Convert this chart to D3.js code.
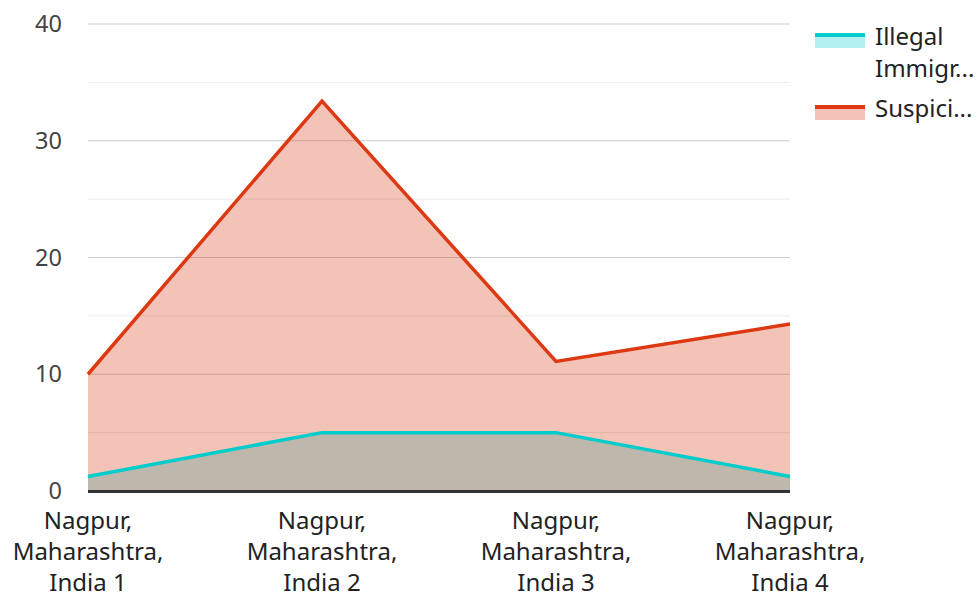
<!DOCTYPE html>
<html>
<head>
<meta charset="utf-8">
<script src="https://cdn.jsdelivr.net/npm/d3@7"></script>
<style>
  body { margin: 0; background: #fff; }
  svg { font-family: "Noto Sans", sans-serif; }
</style>
</head>
<body>
<svg id="chart" width="976" height="593"></svg>
<script>
// data
const categories = ['Nagpur, Maharashtra, India 1', 'Nagpur, Maharashtra, India 2', 'Nagpur, Maharashtra, India 3', 'Nagpur, Maharashtra, India 4'];
const illegal = [1.25, 5, 5, 1.25];
const suspicious = [10, 33.4, 11.1, 14.3];
const seriesNames = ['Illegal Immigr...', 'Suspici...'];
const yTicks = [0, 10, 20, 30, 40];
const yMinor = [5, 15, 25, 35];

const colors = ['#00cccc', '#dc3912'];

const svg = d3.select('#chart');
const plotLeft = 88, plotRight = 790, plotTop = 24, plotBottom = 491;

const x = d3.scalePoint().domain(categories).range([plotLeft, plotRight]);
const y = d3.scaleLinear().domain([0, 40]).range([plotBottom, plotTop]);

// grid
svg.append('g').selectAll('line').data(yMinor).enter().append('line')
  .attr('x1', plotLeft).attr('x2', plotRight)
  .attr('y1', d => y(d)).attr('y2', d => y(d))
  .attr('stroke', '#ebebeb').attr('stroke-width', 1);
svg.append('g').selectAll('line').data(yTicks.filter(d => d > 0)).enter().append('line')
  .attr('x1', plotLeft).attr('x2', plotRight)
  .attr('y1', d => y(d)).attr('y2', d => y(d))
  .attr('stroke', '#cccccc').attr('stroke-width', 1);

// y labels
svg.append('g').selectAll('text').data(yTicks).enter().append('text')
  .attr('x', 62).attr('y', d => y(d) + 8)
  .attr('text-anchor', 'end')
  .attr('font-size', 23.5).attr('fill', '#444')
  .text(d => d);

const series = [illegal, suspicious];
const area = d3.area().x((d, i) => x(categories[i])).y0(y(0)).y1(d => y(d));
const line = d3.line().x((d, i) => x(categories[i])).y(d => y(d));

series.forEach((s, k) => {
  svg.append('path').datum(s)
    .attr('d', area)
    .attr('fill', colors[k]).attr('fill-opacity', 0.3);
});
series.forEach((s, k) => {
  svg.append('path').datum(s)
    .attr('d', line)
    .attr('fill', 'none')
    .attr('stroke', colors[k]).attr('stroke-width', 3.5);
});

// baseline
svg.append('line')
  .attr('x1', plotLeft).attr('x2', plotRight)
  .attr('y1', y(0) + 0.5).attr('y2', y(0) + 0.5)
  .attr('stroke', '#333').attr('stroke-width', 3);

// x labels
const xl = svg.append('g').selectAll('text').data(categories).enter().append('text')
  .attr('x', d => x(d)).attr('y', 529)
  .attr('text-anchor', 'middle')
  .attr('font-size', 24).attr('fill', '#222');
xl.each(function(d) {
  const parts = d.split(' ');
  const lines = [parts[0], parts[1], parts[2] + ' ' + parts[3]];
  lines.forEach((t, i) => {
    d3.select(this).append('tspan')
      .attr('x', x(d)).attr('dy', i === 0 ? 0 : 31)
      .text(t);
  });
});

// legend
const legend = svg.append('g');
const legendRows = [
  { y: 33, lines: ['Illegal', 'Immigr...'] },
  { y: 105, lines: ['Suspici...'] }
];
legendRows.forEach((r, k) => {
  legend.append('rect')
    .attr('x', 815).attr('y', r.y).attr('width', 50).attr('height', 15)
    .attr('fill', colors[k]).attr('fill-opacity', 0.3);
  legend.append('rect')
    .attr('x', 815).attr('y', r.y).attr('width', 50).attr('height', 4)
    .attr('fill', colors[k]);
  r.lines.forEach((t, i) => {
    legend.append('text')
      .attr('x', 875).attr('y', r.y + 12 + i * 32)
      .attr('font-size', 24).attr('fill', '#222')
      .text(t);
  });
});
</script>
</body>
</html>
